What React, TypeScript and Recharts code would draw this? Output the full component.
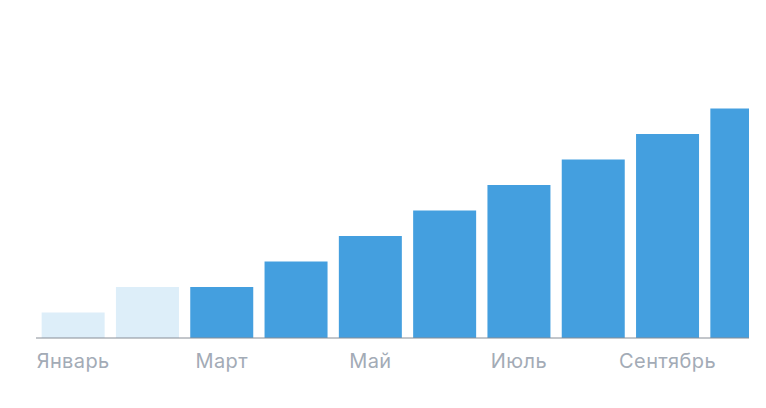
import React from "react";
import { BarChart, Bar, XAxis, YAxis, Cell } from "recharts";

const months = ["Январь", "Февраль", "Март", "Апрель", "Май", "Июнь", "Июль", "Август", "Сентябрь", "Октябрь"];
const values = [1, 2, 2, 3, 4, 5, 6, 7, 8, 9];
const faded = [true, true, false, false, false, false, false, false, false, false];

const data = months.map((m, i) => ({ month: m, value: values[i], faded: faded[i] }));

export default function App() {
  return (
    <div style={{ width: 741, height: 400, overflow: "hidden" }}>
      <BarChart
        width={771}
        height={400}
        data={data}
        margin={{ top: 24, right: 0, bottom: 0, left: 28 }}
        barCategoryGap="7.6%"
      >
        <YAxis hide domain={[0, 12]} />
        <XAxis
          dataKey="month"
          interval={1}
          tickLine={false}
          axisLine={{ stroke: "#868d96", strokeWidth: 1 }}
          tick={{ fill: "#a3abb6", fontSize: 20, fontFamily: "Inter, 'Noto Sans', sans-serif", letterSpacing: 0.4 }}
          tickMargin={10}
          height={70}
        />
        <Bar dataKey="value" isAnimationActive={false}>
          {data.map((d, i) => (
            <Cell key={i} fill={d.faded ? "#ddeef9" : "#449fdf"} />
          ))}
        </Bar>
      </BarChart>
    </div>
  );
}
